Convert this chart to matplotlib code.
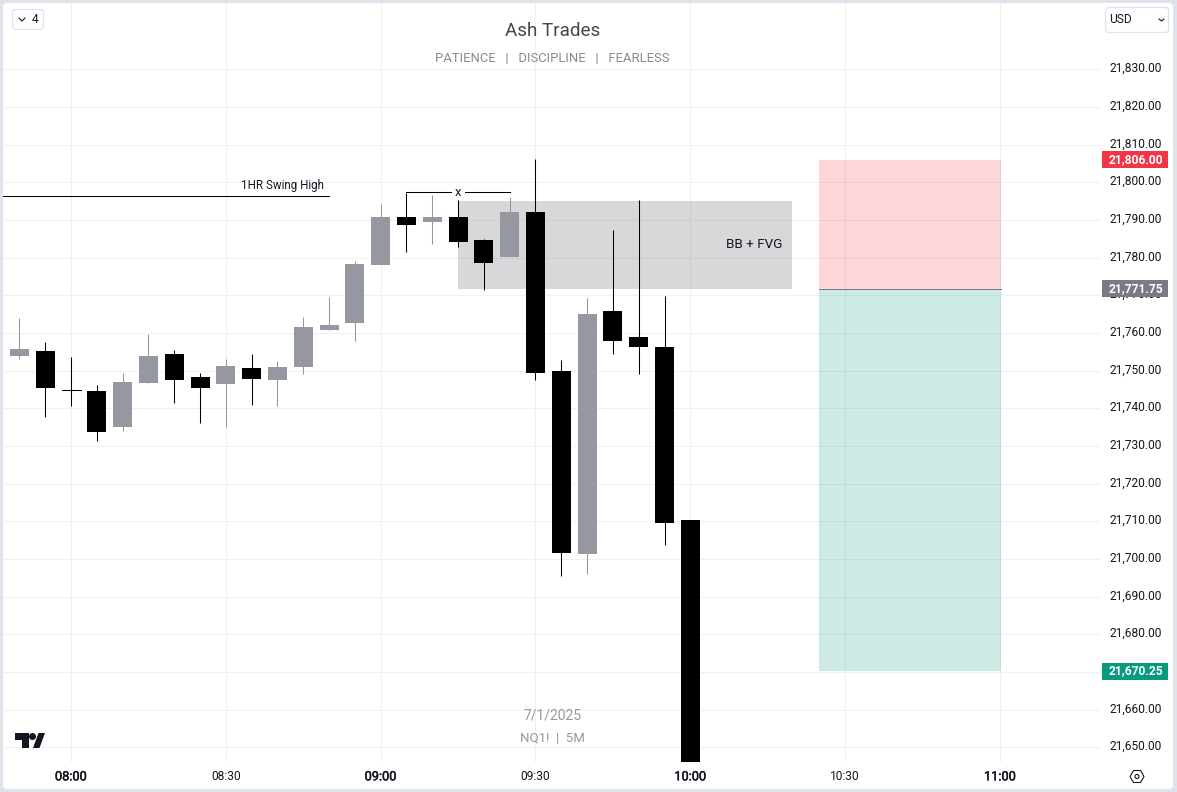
import matplotlib
matplotlib.use('Agg')
import matplotlib.pyplot as plt
import matplotlib.patheffects as pe
from matplotlib.patches import FancyBboxPatch, Rectangle, Polygon, Circle
from matplotlib.transforms import ScaledTranslation

# 5 min candles, time in minutes after midnight
times = [470, 475, 480, 485, 490, 495, 500, 505, 510, 515, 520, 525, 530, 535, 540,
         545, 550, 555, 560, 565, 570, 575, 580, 585, 590, 595, 600]
opens = [21753.9, 21755.25, 21744.75, 21744.5, 21735.0, 21746.75, 21754.5, 21748.25, 21746.5,
         21750.75, 21747.5, 21751.0, 21760.75, 21762.75, 21778.0, 21790.75, 21789.5, 21790.75,
         21784.75, 21780.25, 21792.0, 21750.0, 21701.25, 21765.75, 21759.0, 21756.25, 21710.25]
highs = [21764.0, 21757.5, 21753.5, 21746.25, 21749.5, 21759.75, 21755.5, 21749.5, 21753.0,
         21754.5, 21752.5, 21764.25, 21769.5, 21779.0, 21794.25, 21797.25, 21796.5, 21795.25,
         21785.0, 21796.0, 21806.25, 21752.75, 21769.25, 21787.25, 21795.25, 21769.75, 21710.25]
lows = [21753.0, 21737.75, 21740.5, 21731.25, 21734.0, 21746.75, 21741.5, 21736.0, 21735.0,
        21741.0, 21740.5, 21749.0, 21760.75, 21758.0, 21778.0, 21781.5, 21783.5, 21782.75,
        21771.5, 21780.25, 21747.5, 21695.5, 21696.0, 21754.5, 21749.0, 21703.75, 21640.0]
closes = [21755.75, 21745.5, 21744.75, 21733.75, 21747.0, 21754.0, 21747.5, 21745.5, 21751.25,
          21747.75, 21751.0, 21761.5, 21762.0, 21778.25, 21790.75, 21788.75, 21790.75, 21784.25,
          21778.5, 21792.0, 21749.5, 21701.5, 21765.0, 21758.0, 21756.25, 21709.5, 21640.0]

time_ticks = [480, 510, 540, 570, 600, 630, 660]
time_labels = ['08:00', '08:30', '09:00', '09:30', '10:00', '10:30', '11:00']
price_ticks = list(range(21650, 21840, 10))

stop_price = 21806.0
entry_price = 21771.75
target_price = 21670.25
position_start, position_end = 624.95, 660.2

fvg_start, fvg_end = 555, 619.8
fvg_top, fvg_bottom = 21795.0, 21771.7
swing_high = 21796.4
swing_end = 530
x_level = 21797.3
x_start, x_end = 545, 565
x_gap = (553.6, 556.3)

UP = '#9598a1'
DOWN = '#000000'
FONT = 'Roboto'
W, H = 1177, 792

plt.rcParams['font.family'] = FONT

fig = plt.figure(figsize=(W / 100, H / 100), dpi=100, facecolor='#e0e3eb')


def box(left, top, right, bottom):
    return [left / W, 1 - bottom / H, (right - left) / W, (bottom - top) / H]


bg = fig.add_axes([0, 0, 1, 1], zorder=0)
bg.set_xlim(0, W)
bg.set_ylim(H, 0)
bg.axis('off')
bg.add_patch(FancyBboxPatch((3, 3), 1170, 786, boxstyle='round,pad=0,rounding_size=4',
                            fc='white', ec='none'))

ax = fig.add_axes(box(3, 3, 1101, 762), zorder=1)
ax.patch.set_alpha(0)
ax.set_xlim(466.82, 679.58)
ax.set_ylim(21646.1, 21847.6)
for side in ax.spines.values():
    side.set_visible(False)

ax.set_xticks(time_ticks)
ax.set_xticklabels(time_labels)
ax.set_yticks(price_ticks)
# 21,670.00 sits fully behind the target label
ax.set_yticklabels(['' if p == 21670 else f'{p:,.2f}' for p in price_ticks])
ax.yaxis.tick_right()
ax.tick_params(axis='both', length=0, labelsize=8.64, labelcolor='#131722')
ax.tick_params(axis='y', pad=6)
ax.tick_params(axis='x', pad=6)
for label, t in zip(ax.get_xticklabels(), time_ticks):
    if t % 60 == 0:
        label.set_fontsize(9.2)
        label.set_path_effects([pe.withStroke(linewidth=0.35, foreground='#131722')])
up_shift = ScaledTranslation(0, 2.3 / 100, fig.dpi_scale_trans)
for label in ax.get_yticklabels():
    label.set_transform(label.get_transform() + up_shift)
ax.grid(True, color='#f0f0f3', linewidth=0.72, zorder=0)
ax.set_axisbelow(True)

# fvg box and position tool
ax.add_patch(Rectangle((fvg_start, fvg_bottom), fvg_end - fvg_start, fvg_top - fvg_bottom,
                       fc='#7f7f85', alpha=0.3, ec='none', zorder=1))
ax.add_patch(Rectangle((position_start, entry_price), position_end - position_start,
                       stop_price - entry_price, fc='#f23645', alpha=0.2, ec='none', zorder=1))
ax.add_patch(Rectangle((position_start, target_price), position_end - position_start,
                       entry_price - target_price, fc='#089981', alpha=0.2, ec='none', zorder=1))
ax.plot([position_start, position_end], [entry_price, entry_price], color='#787b86', lw=0.72, zorder=2)

# candles
colors = [UP if c > o else DOWN for o, c in zip(opens, closes)]
ax.vlines(times, lows, highs, colors=colors, linewidth=0.75, zorder=3)
ax.bar(times, [abs(c - o) for o, c in zip(opens, closes)], bottom=[min(o, c) for o, c in zip(opens, closes)],
       width=3.68, color=colors, linewidth=0, zorder=4)
ax.plot([times[2] - 1.84, times[2] + 1.84], [opens[2], opens[2]], color=DOWN, lw=0.75, zorder=4)

# drawings
ax.plot([466.82, swing_end], [swing_high, swing_high], color='black', lw=0.75, zorder=3)
ax.text(swing_end - 0.9, swing_high + 0.95, '1HR Swing High', ha='right', va='bottom', fontsize=8.4,
        color='#131722', zorder=5)
ax.plot([x_start, x_gap[0]], [x_level, x_level], color='black', lw=0.75, zorder=3)
ax.plot([x_gap[1], x_end], [x_level, x_level], color='black', lw=0.75, zorder=3)
ax.text((x_start + x_end) / 2, x_level, 'x', ha='center', va='center', fontsize=9.4, color='#131722', zorder=5)
ax.text(617.9, 21783.4, 'BB + FVG', ha='right', va='center', fontsize=9.7, color='#131722', zorder=5)

over = fig.add_axes([0, 0, 1, 1], zorder=2)
over.set_xlim(0, W)
over.set_ylim(H, 0)
over.axis('off')

over.text(552.5, 31, 'Ash Trades', ha='center', va='center', fontsize=13.6, color='#434651')
over.text(552, 58, 'PATIENCE   |   DISCIPLINE   |   FEARLESS', ha='center', va='center', fontsize=9.4, color='#868993')
over.text(552, 715, '7/1/2025', ha='center', va='center', fontsize=10, color='#9598a1')
over.text(552, 739, 'NQ1!  |  5M', ha='center', va='center', fontsize=9.5, color='#9598a1')

# price labels on the scale
fig.canvas.draw()
for price, color in [(stop_price, '#f23645'), (entry_price, '#787b86'), (target_price, '#089981')]:
    y_px = H - ax.transData.transform((0, price))[1]
    over.add_patch(Rectangle((1102, y_px - 8.5), 66, 17, fc=color, ec='none'))
    over.text(1163, y_px - 0.5, f'{price:,.2f}', ha='right', va='center', fontsize=8.64, color='white', fontweight='bold')

# widgets
over.add_patch(FancyBboxPatch((12.5, 9.5), 31, 20, boxstyle='round,pad=0,rounding_size=3',
                              fc='white', ec='#e0e3eb', lw=0.9))
over.plot([19, 22, 25], [18, 21, 18], color='#131722', lw=0.8)
over.text(35.5, 19.5, '4', ha='center', va='center', fontsize=8.64, color='#131722')
over.add_patch(FancyBboxPatch((1105.5, 7.5), 63, 25, boxstyle='round,pad=0,rounding_size=3',
                              fc='white', ec='#e0e3eb', lw=0.9))
over.text(1109, 19.5, 'USD', ha='left', va='center', fontsize=8.64, color='#131722')
over.plot([1159, 1161.5, 1164], [19, 21, 19], color='#131722', lw=0.8)

# settings icon
over.add_patch(Polygon([(1130, 776.5), (1133.5, 770.5), (1140.5, 770.5), (1144, 776.5), (1140.5, 782.5), (1133.5, 782.5)],
                       closed=True, fc='none', ec='#131722', lw=0.8))
over.add_patch(Circle((1137, 776.5), 2, fc='none', ec='#131722', lw=0.8))

# tradingview logo
over.add_patch(Polygon([(15, 733), (28.5, 733), (28.5, 748), (21.5, 748), (21.5, 740), (15, 740)], closed=True, fc='#131722', ec='none'))
over.add_patch(Circle((32.5, 736.5), 3.5, fc='#131722', ec='none'))
over.add_patch(Polygon([(38.5, 733), (45, 733), (39.5, 748), (33, 748)], closed=True, fc='#131722', ec='none'))

fig.savefig('out.png', dpi=100, facecolor=fig.get_facecolor())
plt.close(fig)
